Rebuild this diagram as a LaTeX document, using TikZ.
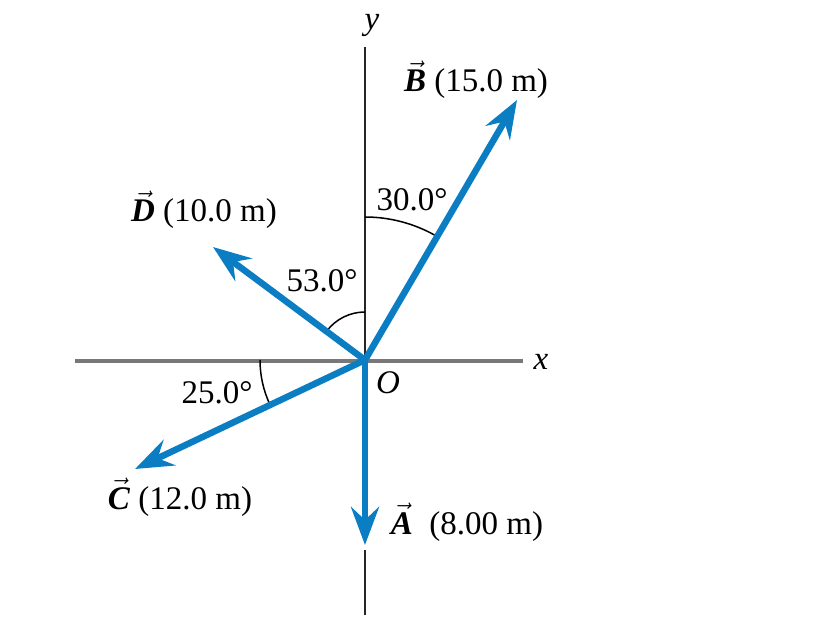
\RequirePackage{fix-cm}
\documentclass[tikz,border=0pt]{standalone}
\usepackage{fontspec}
\setmainfont{Liberation Serif}
\usetikzlibrary{arrows.meta}
\definecolor{vecblue}{RGB}{10,125,195}
\definecolor{axisgray}{RGB}{120,120,120}
\newcommand{\vlab}[1]{$\vec{\textbf{\textit{#1}}}$}
\tikzset{
  vecarrow/.style={draw=vecblue, line width=6.5pt, -{Stealth[length=38pt,width=28pt,inset=13pt]}},
  lab/.style={inner sep=0pt, font=\fontsize{33}{35}\selectfont},
  anglearc/.style={draw=black, line width=1.5pt}
}
\begin{document}
\begin{tikzpicture}[x=1pt,y=1pt]
\useasboundingbox (0,0) rectangle (835,630);
\coordinate (O) at (365,270);
\coordinate (ytop) at (365,583);
\coordinate (ybot1) at (365,80);
\coordinate (ybot2) at (365,15);
\coordinate (xl) at (75,269);
\coordinate (xr) at (523,269);
\coordinate (Btip) at (517,530);
\coordinate (Atip) at (365,85);
\coordinate (Dtip) at (213,383);
\coordinate (Ctip) at (135,161);
% axes
\draw[axisgray, line width=3.5pt] (xl) -- (xr);
\draw[black!85, line width=2pt] (ytop) -- (O);
\draw[black!85, line width=2pt] (ybot1) -- (ybot2);
% angle arcs
\draw[anglearc] ([shift={(90:143)}]O) arc[start angle=90, end angle=60, radius=143];
\draw[anglearc] ([shift={(90:48)}]O) arc[start angle=90, end angle=143, radius=48];
\draw[anglearc] ([shift={(180:105)}]O) arc[start angle=180, end angle=205, radius=105];
% vectors
\draw[vecarrow] (O) -- (Btip);
\draw[vecarrow] (O) -- (Dtip);
\draw[vecarrow] (O) -- (Ctip);
\draw[vecarrow] (O) -- (Atip);
% labels
\node[lab] (ylab) at (372,605) {\textit{y}};
\node[lab] (xlab) at (541,268) {\textit{x}};
\node[lab] (Olab) at (388,247) {\textit{O}};
\node[lab] (Blab) at (476,550) {\vlab{B} (15.0 m)};
\node[lab] (Dlab) at (204,420) {\vlab{D} (10.0 m)};
\node[lab] (Clab) at (180,133) {\vlab{C} (12.0 m)};
\node[lab] (Alab) at (467,108) {\vlab{A}\ \ (8.00 m)};
\node[lab] (a30) at (412,430) {30.0°};
\node[lab] (a53) at (322,349) {53.0°};
\node[lab] (a25) at (217,237) {25.0°};
\end{tikzpicture}
\end{document}
